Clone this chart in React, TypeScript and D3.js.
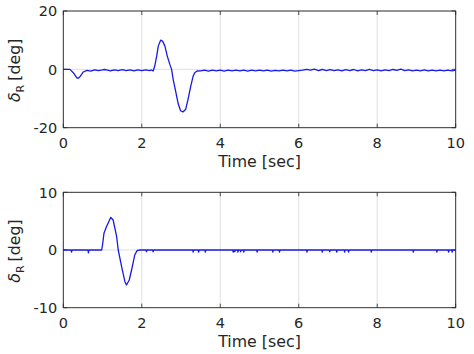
import React from 'react';
import * as d3 from 'd3';

// top panel: rudder angle, times [sec] and values [deg]
const topTime = [
  0, 0.1, 0.17, 0.255, 0.34, 0.38, 0.44, 0.51, 0.6, 0.7, 0.8, 0.9, 1.0, 1.05, 1.1, 1.2, 1.3, 1.4,
  1.5, 1.6, 1.7, 1.8, 1.9, 2.0, 2.1, 2.2, 2.25, 2.29, 2.33, 2.38, 2.42, 2.48, 2.53, 2.59, 2.65,
  2.715, 2.76, 2.8, 2.87, 2.93, 2.99, 3.05, 3.12, 3.18, 3.24, 3.31, 3.35, 3.41, 3.5, 3.6, 3.7,
  3.8, 3.9, 4.0, 4.1, 4.2, 4.3, 4.4, 4.5, 4.6, 4.7, 4.8, 4.9, 5.0, 5.1, 5.2, 5.3, 5.4, 5.5, 5.6,
  5.7, 5.8, 5.9, 6.0, 6.1, 6.2, 6.3, 6.4, 6.5, 6.6, 6.7, 6.8, 6.9, 7.0, 7.1, 7.2, 7.3, 7.4, 7.5,
  7.6, 7.7, 7.8, 7.9, 8.0, 8.1, 8.2, 8.3, 8.4, 8.5, 8.6, 8.7, 8.8, 8.9, 9.0, 9.1, 9.2, 9.3, 9.4,
  9.5, 9.6, 9.7, 9.8, 9.9, 10.0,
];
const topValue = [
  0, 0, 0, -1.14, -2.84, -3.1, -2.27, -0.9, -0.35, -0.6, -0.15, -0.45, -0.2, -0.05, -0.2, -0.5,
  -0.15, -0.4, -0.1, -0.45, -0.2, -0.5, -0.2, -0.45, -0.15, -0.4, -0.2, -0.55, 1.14, 4.55, 7.96,
  10.0, 9.67, 7.96, 4.55, 1.7, 0, -3.41, -7.96, -11.9, -14.2, -14.6, -13.65, -10.2, -6.26, -2.27,
  -1.14, -0.57, -0.55, -0.3, -0.6, -0.3, -0.55, -0.3, -0.6, -0.3, -0.5, -0.25, -0.55, -0.3,
  -0.6, -0.3, -0.5, -0.3, -0.55, -0.3, -0.6, -0.35, -0.55, -0.3, -0.55, -0.3, -0.6, -0.45, -0.3,
  0.0, -0.3, 0.05, -0.4, -0.05, -0.45, -0.1, -0.45, -0.2, -0.5, -0.1, -0.4, -0.05, -0.5,
  -0.2, -0.45, 0.0, -0.4, -0.15, -0.5, -0.2, -0.45, -0.05, -0.35, 0.05, -0.4, -0.15, -0.5, -0.25,
  -0.55, -0.2, -0.5, -0.25, -0.55, -0.3, -0.55, -0.25, -0.5, -0.3,
];

// bottom panel: smooth manoeuvre plus small single-sample dips
const bottomTime = [
  0, 0.977, 1.0, 1.036, 1.1, 1.21, 1.27, 1.36, 1.4, 1.486, 1.57, 1.61, 1.68, 1.74, 1.82, 1.88,
  1.95, 10.0,
];
const bottomValue = [
  0, 0, 0.87, 2.89, 4.04, 5.66, 5.2, 2.3, 0, -2.89, -5.49, -6.07, -5.2, -3.47, -0.87, -0.1, 0, 0,
];
const dipTime = [
  0.21, 0.64, 2.12, 2.29, 3.31, 3.45, 3.62, 4.33, 4.37, 4.45, 4.52, 4.6, 4.94, 5.34, 5.51, 6.21,
  6.6, 6.79, 6.97, 7.17, 7.27, 7.85, 8.92, 9.52, 9.82, 9.91,
];
const dipDepth = [
  -0.35, -0.5, -0.3, -0.3, -0.35, -0.35, -0.35, -0.35, -0.3, -0.35, -0.3, -0.35, -0.35, -0.35,
  -0.35, -0.35, -0.35, -0.3, -0.35, -0.35, -0.35, -0.35, -0.35, -0.35, -0.35, -0.35,
];

const xTicks = [0, 2, 4, 6, 8, 10];
const topYTicks = [-20, 0, 20];
const bottomYTicks = [-10, 0, 10];

const W = 474;
const H = 354;
const left = 63.3;
const right = 455.7;
const ink = '#262626';
const font = 'DejaVu Sans, sans-serif';

type Pt = [number, number];

const topPoints: Pt[] = topTime.map((t, i) => [t, topValue[i]]);
const bottomPoints: Pt[] = (() => {
  const pts: Pt[] = bottomTime.map((t, i) => [t, bottomValue[i]]);
  dipTime.forEach((t, i) => {
    pts.push([t - 0.012, 0], [t, dipDepth[i]], [t + 0.012, 0]);
  });
  return pts.sort((a, b) => a[0] - b[0]);
})();

const Panel = ({ top, bottom, yTicks, points }: { top: number; bottom: number; yTicks: number[]; points: Pt[] }) => {
  const x = d3.scaleLinear().domain([0, 10]).range([left, right]);
  const y = d3.scaleLinear().domain([yTicks[0], yTicks[yTicks.length - 1]]).range([bottom, top]);
  const line = d3
    .line<Pt>()
    .x((d) => x(d[0]))
    .y((d) => y(d[1]));
  const tl = 4;
  const mid = (top + bottom) / 2;
  return (
    <g>
      {/* grid */}
      {xTicks.map((t) => (
        <line key={'gx' + t} x1={x(t)} x2={x(t)} y1={top} y2={bottom} stroke="#dfdfdf" strokeWidth={1} />
      ))}
      {yTicks.map((t) => (
        <line key={'gy' + t} x1={left} x2={right} y1={y(t)} y2={y(t)} stroke="#dfdfdf" strokeWidth={1} />
      ))}
      {/* ticks */}
      {xTicks.map((t) => (
        <g key={'tx' + t} stroke={ink} strokeWidth={0.8}>
          <line x1={x(t)} x2={x(t)} y1={bottom} y2={bottom - tl} />
          <line x1={x(t)} x2={x(t)} y1={top} y2={top + tl} />
        </g>
      ))}
      {yTicks.map((t) => (
        <g key={'ty' + t} stroke={ink} strokeWidth={0.8}>
          <line x1={left} x2={left + tl} y1={y(t)} y2={y(t)} />
          <line x1={right} x2={right - tl} y1={y(t)} y2={y(t)} />
        </g>
      ))}
      <path d={line(points) || ''} fill="none" stroke="#1a1ae6" strokeWidth={1.3} strokeLinejoin="round" />
      <rect x={left} y={top} width={right - left} height={bottom - top} fill="none" stroke={ink} strokeWidth={0.9} />
      {/* tick labels */}
      {xTicks.map((t) => (
        <text key={'lx' + t} x={x(t)} y={bottom + 20.6} textAnchor="middle" fontSize={14.5} fill={ink} fontFamily={font}>
          {t}
        </text>
      ))}
      {yTicks.map((t) => (
        <text key={'ly' + t} x={left - 6} y={y(t) + 5.2} textAnchor="end" fontSize={14.5} fill={ink} fontFamily={font}>
          {t}
        </text>
      ))}
      <text x={(left + right) / 2} y={bottom + 39} textAnchor="middle" fontSize={15.8} fill={ink} fontFamily={font}>
        Time [sec]
      </text>
      <text
        transform={`translate(19.5, ${mid + 1}) rotate(-90)`}
        textAnchor="middle"
        fontSize={15.8}
        fill={ink}
        fontFamily={font}
      >
        <tspan fontStyle="italic">δ</tspan>
        <tspan fontSize={11} dy={4}>R</tspan>
        <tspan dy={-4} dx={4}>[deg]</tspan>
      </text>
    </g>
  );
};

const App = () => {
  return (
    <svg width={W} height={H} style={{ position: 'absolute', left: 0, top: 0, background: '#fff' }}>
      <Panel top={11} bottom={127.7} yTicks={topYTicks} points={topPoints} />
      <Panel top={192.3} bottom={307.7} yTicks={bottomYTicks} points={bottomPoints} />
    </svg>
  );
};

export default App;
